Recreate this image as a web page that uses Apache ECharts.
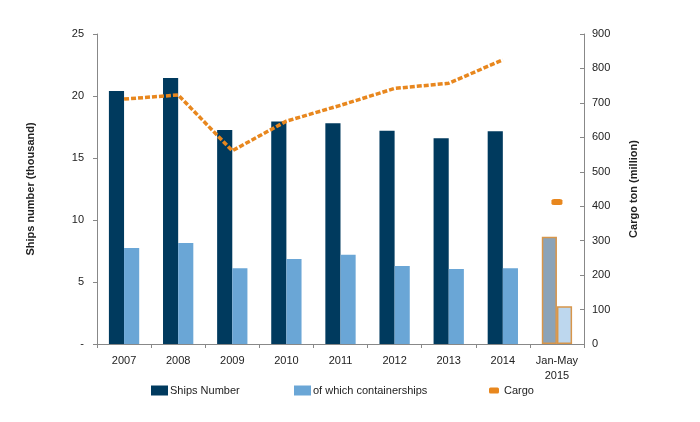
<!DOCTYPE html>
<html>
<head>
<meta charset="utf-8">
<script src="https://cdn.jsdelivr.net/npm/echarts@6/dist/echarts.min.js"></script>
<style>
  html, body { margin: 0; padding: 0; background: #fff; }
  #chart { width: 700px; height: 422px; }
</style>
</head>
<body>
<div id="chart"></div>
<script>
// categories and values
var years = ['2007', '2008', '2009', '2010', '2011', '2012', '2013', '2014', 'Jan-May\n2015'];
var shipsNumber = [20.4, 21.45, 17.25, 17.95, 17.8, 17.2, 16.6, 17.15, 8.65];     // thousand
var containerships = [7.75, 8.15, 6.1, 6.85, 7.2, 6.3, 6.05, 6.1, 3.05];            // thousand
var cargo = [711, 723, 561, 647, 693, 742, 757, 825, null];                         // million ton
var cargoPartial = [null, null, null, null, null, null, null, null, 412];           // Jan-May 2015
var leftTicks = [0, 25, 5];
var rightTicks = [0, 900, 100];

var font = 'Liberation Sans';
var navy = '#003a5e';
var lightBlue = '#6aa6d6';
var orange = '#e8871e';
var lastIdx = years.length - 1;

// the partial-year bars are drawn paler with an orange outline
function barData(values, color, paleColor) {
  return values.map(function (v, i) {
    if (i !== lastIdx) return v;
    return {
      value: v,
      itemStyle: { color: paleColor, borderColor: '#d8964a', borderWidth: 1.5 }
    };
  });
}

var legendText = { fontFamily: font, fontSize: 11, color: '#222', padding: [0, 0, 0, -3] };

var chart = echarts.init(document.getElementById('chart'));

var option = {
  animation: false,
  textStyle: { fontFamily: font },
  grid: { left: 97, right: 116, top: 34, bottom: 78 },
  legend: [
    {
      data: ['Ships Number'], left: 146, top: 380,
      itemWidth: 17, itemHeight: 10, icon: 'rect',
      textStyle: legendText
    },
    {
      data: ['of which containerships'], left: 289, top: 380,
      itemWidth: 17, itemHeight: 10, icon: 'rect',
      textStyle: legendText
    },
    {
      data: ['Cargo'], left: 484, top: 380,
      itemWidth: 10, itemHeight: 6, icon: 'roundRect',
      textStyle: { fontFamily: font, fontSize: 11, color: '#222' }
    }
  ],
  xAxis: {
    type: 'category',
    data: years,
    axisLine: { lineStyle: { color: '#888' } },
    axisTick: { show: true, length: 4, lineStyle: { color: '#888' } },
    axisLabel: { interval: 0, color: '#222', fontSize: 11, margin: 9, lineHeight: 15 }
  },
  yAxis: [
    {
      type: 'value',
      min: leftTicks[0], max: leftTicks[1], interval: leftTicks[2],
      name: 'Ships number (thousand)',
      nameLocation: 'middle',
      nameGap: 61,
      nameTextStyle: { fontFamily: font, fontSize: 11, fontWeight: 'bold', color: '#222' },
      axisLine: { show: true, lineStyle: { color: '#888' } },
      axisTick: { show: true, length: 4, lineStyle: { color: '#888' } },
      splitLine: { show: false },
      axisLabel: {
        color: '#222', fontSize: 11, margin: 13,
        formatter: function (v) { return v === 0 ? '-' : v; }
      }
    },
    {
      type: 'value',
      position: 'right',
      min: rightTicks[0], max: rightTicks[1], interval: rightTicks[2],
      name: 'Cargo ton (million)',
      nameLocation: 'middle',
      nameGap: 44,
      nameRotate: 90,
      nameTextStyle: { fontFamily: font, fontSize: 11, fontWeight: 'bold', color: '#222' },
      axisLine: { show: true, lineStyle: { color: '#888' } },
      axisTick: { show: true, inside: true, length: 4, lineStyle: { color: '#888' } },
      splitLine: { show: false },
      axisLabel: { color: '#222', fontSize: 11, margin: 8 }
    }
  ],
  series: [
    {
      name: 'Ships Number',
      type: 'bar',
      yAxisIndex: 0,
      barGap: '0%',
      barCategoryGap: '44%',
      itemStyle: { color: navy },
      data: barData(shipsNumber, navy, '#8ba3b8')
    },
    {
      name: 'of which containerships',
      type: 'bar',
      yAxisIndex: 0,
      itemStyle: { color: lightBlue },
      data: barData(containerships, lightBlue, '#bdd7ee')
    },
    {
      name: 'Cargo',
      type: 'line',
      yAxisIndex: 1,
      showSymbol: false,
      symbol: 'none',
      itemStyle: { color: orange },
      lineStyle: { color: orange, width: 3.5, type: [5, 2] },
      data: cargo,
      z: 5
    },
    {
      name: 'Cargo',
      type: 'line',
      yAxisIndex: 1,
      symbol: 'roundRect',
      symbolSize: [11, 6],
      showSymbol: true,
      itemStyle: { color: orange },
      lineStyle: { width: 0 },
      data: cargoPartial,
      z: 5
    }
  ]
};

chart.setOption(option);
</script>
</body>
</html>
